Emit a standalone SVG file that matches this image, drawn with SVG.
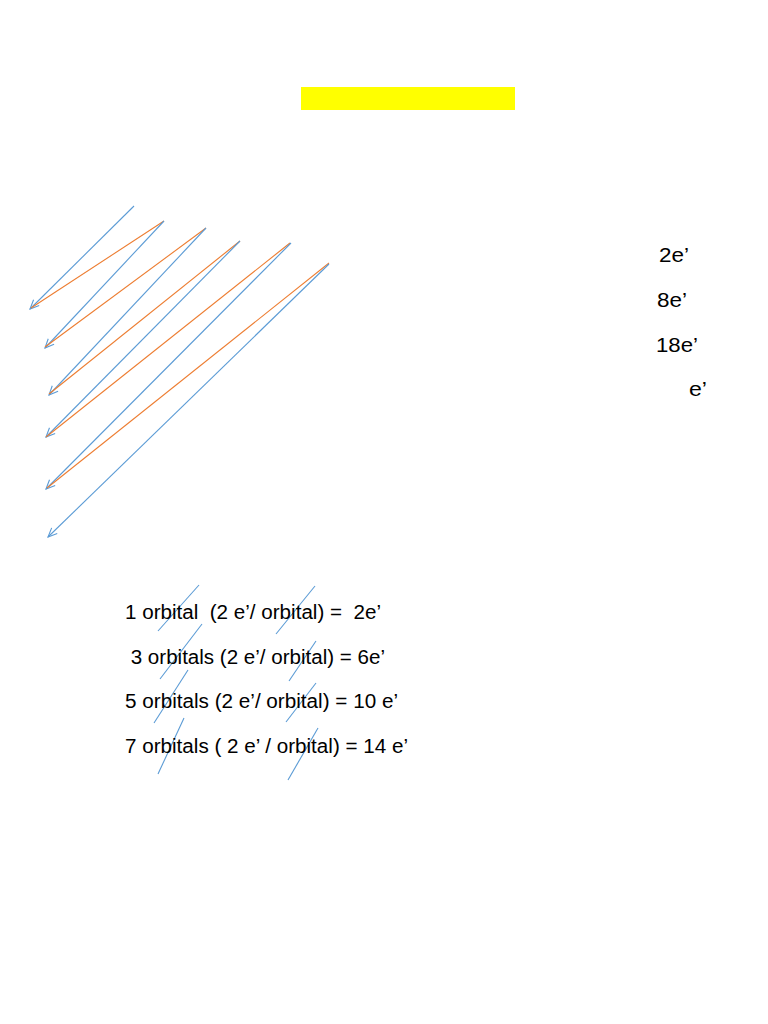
<svg xmlns="http://www.w3.org/2000/svg" width="768" height="1024" viewBox="0 0 768 1024">
<style>
.t{font-family:"Liberation Sans",Arial,sans-serif;font-size:19.5px;fill:#000;white-space:pre}
.b{stroke:#5B9BD5;stroke-width:1.1;fill:none}
.o{stroke:#ED7D31;stroke-width:1.1;fill:none}
</style>
<defs>
<marker id="ah" markerUnits="userSpaceOnUse" markerWidth="12" markerHeight="12" refX="10" refY="5" orient="auto" viewBox="0 0 12 10">
<path d="M1,1 L10,5 L1,9" fill="none" stroke="#5B9BD5" stroke-width="1.1"/>
</marker>
</defs>
<rect width="768" height="1024" fill="#fff"/>
<g id="title-bar"><rect x="301" y="87" width="214" height="23" fill="#FFFF00"/></g>
<g id="connectors">
<line class="b" x1="134" y1="206" x2="30" y2="309" marker-end="url(#ah)"/>
<line class="o" x1="164" y1="221" x2="31" y2="308"/>
<line class="b" x1="164" y1="221" x2="45" y2="348" marker-end="url(#ah)"/>
<line class="o" x1="206" y1="228" x2="45" y2="347"/>
<line class="b" x1="206" y1="228" x2="49" y2="395" marker-end="url(#ah)"/>
<line class="o" x1="240" y1="241" x2="49" y2="394"/>
<line class="b" x1="240" y1="241" x2="46" y2="437" marker-end="url(#ah)"/>
<line class="o" x1="290" y1="243" x2="46" y2="437"/>
<line class="b" x1="291" y1="243" x2="46" y2="489" marker-end="url(#ah)"/>
<line class="o" x1="329" y1="263" x2="47" y2="488"/>
<line class="b" x1="329" y1="264" x2="48" y2="537" marker-end="url(#ah)"/>
<line class="b" x1="199" y1="585" x2="158" y2="631"/>
<line class="b" x1="315" y1="586" x2="276" y2="634"/>
<line class="b" x1="202" y1="624" x2="160" y2="679"/>
<line class="b" x1="316" y1="641" x2="289" y2="681"/>
<line class="b" x1="188" y1="670" x2="154" y2="723"/>
<line class="b" x1="316" y1="683" x2="286" y2="722"/>
<line class="b" x1="184" y1="718" x2="158" y2="774"/>
<line class="b" x1="318" y1="728" x2="288" y2="780"/>
</g>
<g id="shell-totals">
<text class="t" x="659" y="262" textLength="30" lengthAdjust="spacingAndGlyphs">2e’</text>
<text class="t" x="657" y="307" textLength="30" lengthAdjust="spacingAndGlyphs">8e’</text>
<text class="t" x="656" y="352" textLength="42" lengthAdjust="spacingAndGlyphs">18e’</text>
<text class="t" x="689" y="396" textLength="18" lengthAdjust="spacingAndGlyphs">e’</text>
</g>
<g id="orbital-lines">
<text class="t" x="125" y="619" textLength="256" lengthAdjust="spacingAndGlyphs">1 orbital  (2 e’/ orbital) =  2e’</text>
<text class="t" x="125" y="664" textLength="260" lengthAdjust="spacingAndGlyphs"> 3 orbitals (2 e’/ orbital) = 6e’</text>
<text class="t" x="125" y="708" textLength="273" lengthAdjust="spacingAndGlyphs">5 orbitals (2 e’/ orbital) = 10 e’</text>
<text class="t" x="125" y="753" textLength="283" lengthAdjust="spacingAndGlyphs">7 orbitals ( 2 e’ / orbital) = 14 e’</text>
</g>
</svg>
